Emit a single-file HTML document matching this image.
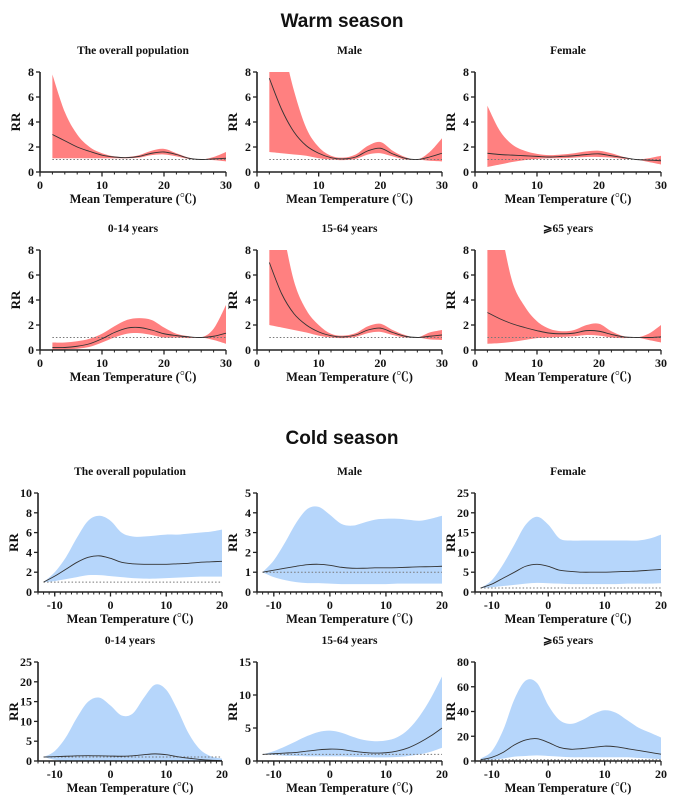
<!DOCTYPE html>
<html><head><meta charset="utf-8"><style>
body{margin:0;background:#fff;width:685px;height:801px;overflow:hidden}
svg text{font-family:"Liberation Serif","Noto Serif CJK SC",serif;font-weight:bold;fill:#111}
</style></head><body>
<svg id="chart" width="685" height="801" xmlns="http://www.w3.org/2000/svg">
<defs id="defs"></defs>
<text x="342" y="27" font-size="19" text-anchor="middle" style="font-family:'Liberation Sans',sans-serif;font-weight:bold">Warm season</text>
<text x="342" y="444" font-size="19" text-anchor="middle" style="font-family:'Liberation Sans',sans-serif;font-weight:bold">Cold season</text>
</svg>
<script>
const warmX = [2,4,6,8,10,12,14,16,18,20,22,24,26,28,30];
const coldX = [-12,-10,-8,-6,-4,-2,0,2,4,6,8,10,12,14,16,18,20];

const warmOverallMid = [3.0,2.5,2.0,1.65,1.35,1.2,1.15,1.25,1.5,1.6,1.4,1.1,1.0,1.05,1.1];
const warmOverallUp  = [7.8,4.8,3.0,2.0,1.5,1.25,1.2,1.35,1.7,1.85,1.5,1.15,1.0,1.2,1.6];
const warmOverallLo  = [1.1,1.1,1.1,1.1,1.1,1.1,1.1,1.15,1.35,1.4,1.25,1.05,1.0,0.95,0.85];
const warmMaleMid = [7.5,5.0,3.2,2.1,1.5,1.15,1.05,1.2,1.7,1.9,1.45,1.1,1.0,1.2,1.5];
const warmMaleUp  = [14,10.5,6.5,3.5,2.0,1.3,1.15,1.4,2.1,2.4,1.7,1.2,1.0,1.6,2.7];
const warmMaleLo  = [1.6,1.5,1.4,1.3,1.1,1.0,0.95,1.05,1.4,1.5,1.25,1.0,1.0,0.9,0.85];
const warmFemaleMid = [1.5,1.4,1.35,1.3,1.25,1.2,1.25,1.3,1.4,1.45,1.3,1.15,1.0,0.95,0.9];
const warmFemaleUp  = [5.3,3.3,2.2,1.7,1.45,1.35,1.4,1.5,1.65,1.7,1.5,1.2,1.0,1.1,1.3];
const warmFemaleLo  = [0.4,0.6,0.8,0.95,1.05,1.1,1.1,1.15,1.2,1.2,1.15,1.05,1.0,0.8,0.6];
const warmKidMid = [0.2,0.2,0.3,0.5,0.9,1.4,1.75,1.8,1.6,1.3,1.15,1.05,1.0,1.1,1.35];
const warmKidUp  = [0.6,0.6,0.7,0.9,1.3,1.9,2.4,2.55,2.4,1.8,1.3,1.1,1.0,1.7,3.6];
const warmKidLo  = [0.05,0.05,0.1,0.25,0.6,1.0,1.3,1.35,1.2,1.0,1.0,0.95,1.0,0.8,0.5];
const warmAdultMid = [7.0,4.5,2.9,2.0,1.45,1.15,1.05,1.2,1.6,1.75,1.4,1.1,1.0,1.1,1.2];
const warmAdultUp  = [14,10,5.5,3.2,2.0,1.3,1.15,1.35,1.9,2.1,1.6,1.2,1.0,1.4,1.6];
const warmAdultLo  = [2.0,1.8,1.6,1.4,1.15,1.0,0.95,1.05,1.35,1.45,1.2,1.0,1.0,0.85,0.8];
const warmOldMid = [3.0,2.5,2.1,1.8,1.55,1.35,1.3,1.35,1.55,1.5,1.25,1.05,1.0,1.0,1.05];
const warmOldUp  = [14,10,5.5,3.5,2.3,1.7,1.5,1.6,2.0,2.1,1.5,1.1,1.0,1.3,2.0];
const warmOldLo  = [0.5,0.55,0.65,0.8,0.95,1.0,1.05,1.1,1.2,1.15,1.0,0.95,1.0,0.8,0.6];

const coldOverallMid = [1,1.6,2.3,3.0,3.5,3.65,3.4,3.0,2.85,2.8,2.8,2.8,2.85,2.9,3.0,3.05,3.1];
const coldOverallUp  = [1,2.0,3.5,5.5,7.2,7.7,7.2,6.0,5.6,5.6,5.7,5.8,5.8,5.9,6.0,6.1,6.3];
const coldOverallLo  = [1,1.1,1.3,1.5,1.7,1.7,1.6,1.5,1.4,1.35,1.35,1.4,1.45,1.5,1.55,1.55,1.55];
const coldMaleMid = [1.0,1.1,1.2,1.3,1.38,1.4,1.35,1.25,1.2,1.2,1.22,1.22,1.23,1.25,1.27,1.28,1.3];
const coldMaleUp  = [1.0,1.6,2.5,3.5,4.2,4.3,3.9,3.45,3.35,3.5,3.65,3.7,3.7,3.65,3.6,3.7,3.85];
const coldMaleLo  = [1.0,0.75,0.6,0.5,0.45,0.45,0.42,0.4,0.4,0.4,0.4,0.4,0.42,0.42,0.42,0.42,0.42];
const coldFemaleMid = [1,2,3.5,5,6.5,7,6.5,5.5,5.2,5,5,5,5.1,5.2,5.3,5.5,5.7];
const coldFemaleUp  = [1,3,7,12,17,19,17,13.5,13,13,13,13,13,13,13,13.5,14.5];
const coldFemaleLo  = [1,1.2,1.5,1.8,2.1,2.3,2.2,2.1,2.0,2.0,2.0,2.0,2.0,2.1,2.1,2.1,2.2];
const coldKidMid = [1,1.1,1.2,1.3,1.35,1.3,1.25,1.2,1.3,1.6,1.8,1.6,1.1,0.7,0.4,0.2,0.1];
const coldKidUp  = [1,2.5,6,11,15,16,14,11.5,12,16,19.3,18,13,7,3,1.2,0.6];
const coldKidLo  = [1,0.3,0.1,0.1,0.1,0.1,0.1,0.1,0.1,0.1,0.1,0.1,0.1,0.1,0.05,0.05,0.05];
const coldAdultMid = [1,1.1,1.2,1.3,1.5,1.7,1.8,1.75,1.5,1.3,1.2,1.25,1.5,2.0,2.8,3.8,5.0];
const coldAdultUp  = [1,1.5,2.2,3.0,3.8,4.4,4.6,4.3,3.7,3.2,3.0,3.1,3.6,4.8,6.8,9.5,12.8];
const coldAdultLo  = [1,0.9,0.8,0.75,0.7,0.7,0.7,0.7,0.65,0.6,0.55,0.55,0.6,0.75,1.0,1.4,2.0];
const coldOldMid = [1,3,7,13,17,18,15,11,9.5,10,11,12,11.5,10,8.5,7,5.5];
const coldOldUp  = [2,8,25,50,65,63,45,33,30,33,38,41,39,33,27,23,19];
const coldOldLo  = [0.5,1,2,3.5,4,4.5,4,3.5,3,3,3,3,3,3,2.5,2,1.5];

const warmYTicks = [0,2,4,6,8];
const warmXTicks = [0,10,20,30];
const coldXTicks = [-10,0,10,20];

const svg = document.getElementById('chart');
const defs = document.getElementById('defs');
const NS = 'http://www.w3.org/2000/svg';
const SERIF = "font-family:'Liberation Serif','Noto Serif CJK SC',serif;font-weight:bold";
function mk(tag, attrs, parent){const e=document.createElementNS(NS,tag);for(const k in attrs)e.setAttribute(k,attrs[k]);(parent||svg).appendChild(e);return e;}
function spline(pts){
  let d='M'+pts[0][0].toFixed(2)+','+pts[0][1].toFixed(2);
  for(let i=0;i<pts.length-1;i++){
    const p0=pts[Math.max(0,i-1)],p1=pts[i],p2=pts[i+1],p3=pts[Math.min(pts.length-1,i+2)];
    const c1x=p1[0]+(p2[0]-p0[0])/6,c1y=p1[1]+(p2[1]-p0[1])/6,c2x=p2[0]-(p3[0]-p1[0])/6,c2y=p2[1]-(p3[1]-p1[1])/6;
    d+=' C'+c1x.toFixed(2)+','+c1y.toFixed(2)+' '+c2x.toFixed(2)+','+c2y.toFixed(2)+' '+p2[0].toFixed(2)+','+p2[1].toFixed(2);
  }
  return d;
}
let clipN=0;
function panel(o){
  const g=mk('g',{});
  
  
  const sx=v=>o.L+(v-o.x0)/(o.x1-o.x0)*(o.R-o.L);
  const sy=v=>o.B-v/o.yMax*(o.B-o.T);
  const cid='clip'+(clipN++);
  const cp=mk('clipPath',{id:cid},defs);
  mk('rect',{x:o.L,y:o.T,width:o.R-o.L+2,height:o.B-o.T},cp);
  const up=o.xs.map((x,i)=>[sx(x),sy(o.up[i])]);
  const lo=o.xs.map((x,i)=>[sx(x),sy(o.lo[i])]).reverse();
  let d=spline(up)+' L'+lo[0][0]+','+lo[0][1]+spline(lo).replace(/^M[^ C]+/,'')+' Z';
  const band=mk('path',{d:d,fill:o.fill,stroke:'none','clip-path':'url(#'+cid+')'},g);
  
  
  const ref=mk('line',{x1:sx(o.xs[0]),x2:sx(o.xs[o.xs.length-1]),y1:sy(1),y2:sy(1),stroke:'#777','stroke-width':1,'stroke-dasharray':'1.5,2'},g);
  
  
  const line=mk('path',{d:spline(o.xs.map((x,i)=>[sx(x),sy(o.mid[i])])),fill:'none',stroke:'#333','stroke-width':0.9,'clip-path':'url(#'+cid+')'},g);
  
  
  mk('line',{x1:o.L,x2:o.L,y1:o.T,y2:o.B,stroke:'#222','stroke-width':1.6},g);
  mk('line',{x1:o.L,x2:o.R,y1:o.B,y2:o.B,stroke:'#222','stroke-width':1.6},g);
  o.yt.forEach(v=>{const y=sy(v);mk('line',{x1:o.L-4,x2:o.L,y1:y,y2:y,stroke:'#222','stroke-width':1.3},g);
    const t=mk('text',{x:o.L-6,y:y+4,'font-size':12,'text-anchor':'end',style:SERIF},g);t.textContent=v;
    
    });
  for(let v=Math.ceil(o.x0/o.minor)*o.minor;v<=o.x1;v+=o.minor){const x=sx(v);mk('line',{x1:x,x2:x,y1:o.B,y2:o.B+2.5,stroke:'#222','stroke-width':1},g);}
  o.xt.forEach(v=>{const x=sx(v);mk('line',{x1:x,x2:x,y1:o.B,y2:o.B+4.5,stroke:'#222','stroke-width':1.3},g);
    const t=mk('text',{x:x,y:o.B+17,'font-size':12,'text-anchor':'middle',style:SERIF},g);t.textContent=v;
    
    });
  const tt=mk('text',{x:(o.L+o.R)/2,y:o.T-18,'font-size':11.5,'text-anchor':'middle',style:SERIF},g);tt.textContent=o.title;
  
  
  const xl=mk('text',{x:(o.L+o.R)/2,y:o.B+31,'font-size':12.5,'text-anchor':'middle',style:SERIF},g);xl.textContent='Mean Temperature (℃)';
  
  
  const yl=mk('text',{x:0,y:0,'font-size':13,'text-anchor':'middle',style:SERIF,transform:'translate('+(o.L-20)+','+((o.T+o.B)/2)+') rotate(-90)'},g);yl.textContent='RR';
  
  
}
const cols=[[40,226],[257,442],[475,661]];
const coldCols=[[38,222],[257,442],[475,661]];
const red='#ff8080', blue='#b6d6fb';
const warm=[
 ['The overall population',warmOverallMid,warmOverallUp,warmOverallLo],
 ['Male',warmMaleMid,warmMaleUp,warmMaleLo],
 ['Female',warmFemaleMid,warmFemaleUp,warmFemaleLo],
 ['0-14 years',warmKidMid,warmKidUp,warmKidLo],
 ['15-64 years',warmAdultMid,warmAdultUp,warmAdultLo],
 ['⩾65 years',warmOldMid,warmOldUp,warmOldLo]];
warm.forEach((p,i)=>{const r=Math.floor(i/3),c=i%3;const T=r?250:72;
  panel({name:'warm-panel-'+(i+1),title:p[0],mid:p[1],up:p[2],lo:p[3],xs:warmX,x0:0,x1:30,L:cols[c][0],R:cols[c][1],T:T,B:T+100,yMax:8,yt:warmYTicks,xt:warmXTicks,minor:2,fill:red});});
const cold=[
 ['The overall population',coldOverallMid,coldOverallUp,coldOverallLo,10,[0,2,4,6,8,10]],
 ['Male',coldMaleMid,coldMaleUp,coldMaleLo,5,[0,1,2,3,4,5]],
 ['Female',coldFemaleMid,coldFemaleUp,coldFemaleLo,25,[0,5,10,15,20,25]],
 ['0-14 years',coldKidMid,coldKidUp,coldKidLo,25,[0,5,10,15,20,25]],
 ['15-64 years',coldAdultMid,coldAdultUp,coldAdultLo,15,[0,5,10,15]],
 ['⩾65 years',coldOldMid,coldOldUp,coldOldLo,80,[0,20,40,60,80]]];
cold.forEach((p,i)=>{const r=Math.floor(i/3),c=i%3;const T=r?662:493;
  panel({name:'cold-panel-'+(i+1),title:p[0],mid:p[1],up:p[2],lo:p[3],xs:coldX,x0:-13,x1:20,L:coldCols[c][0],R:coldCols[c][1],T:T,B:T+99,yMax:p[4],yt:p[5],xt:coldXTicks,minor:1,fill:blue});});
</script>
</body></html>
